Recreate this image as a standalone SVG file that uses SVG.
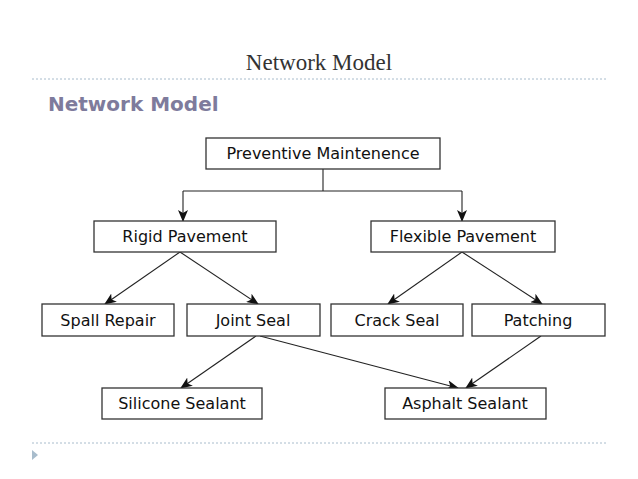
<svg xmlns="http://www.w3.org/2000/svg" width="638" height="479" viewBox="0 0 638 479">
<style>
.b{fill:#fff;stroke:#333;stroke-width:1.3}
.t{font-family:"DejaVu Sans",sans-serif;font-size:16px;fill:#111;text-anchor:middle}
.c{stroke:#222;stroke-width:1.1;fill:none}
.d{stroke:#a8bccc;stroke-width:1;stroke-dasharray:2,2}
</style>
<defs><marker id="a" markerWidth="12" markerHeight="10" refX="11" refY="5" orient="auto" markerUnits="userSpaceOnUse"><path d="M0,0 L12,5 L0,10 L3,5 Z" fill="#111"/></marker></defs>
<rect width="638" height="479" fill="#fff"/>
<text x="319" y="70" font-family="Liberation Serif,serif" font-size="23" fill="#333" text-anchor="middle">Network Model</text>
<line class="d" x1="32" y1="79" x2="606" y2="79"/>
<text x="48" y="111" font-family="DejaVu Sans,sans-serif" font-weight="bold" font-size="20" fill="#7e7b9c">Network Model</text>
<line class="d" x1="32" y1="443" x2="606" y2="443"/>
<path d="M32,450 L38,455 L32,460 Z" fill="#a8bccc"/>
<g id="connectors">
<path class="c" d="M323,169 V191"/>
<path class="c" d="M183,191 H462"/>
<path class="c" d="M183,191 V221" marker-end="url(#a)"/>
<path class="c" d="M462,191 V221" marker-end="url(#a)"/>
<path class="c" d="M180,252 L105,304" marker-end="url(#a)"/>
<path class="c" d="M180,252 L258,304" marker-end="url(#a)"/>
<path class="c" d="M462,252 L388,304" marker-end="url(#a)"/>
<path class="c" d="M462,252 L542,304" marker-end="url(#a)"/>
<path class="c" d="M256,336 L181,388" marker-end="url(#a)"/>
<path class="c" d="M260,336 L458,388" marker-end="url(#a)"/>
<path class="c" d="M541,336 L466,388" marker-end="url(#a)"/>
</g>
<g id="pm"><rect class="b" x="206" y="138" width="234" height="31"/><text class="t" x="323" y="159">Preventive Maintenence</text></g>
<g id="rigid"><rect class="b" x="94" y="221" width="182" height="31"/><text class="t" x="185" y="242">Rigid Pavement</text></g>
<g id="flex"><rect class="b" x="371" y="221" width="184" height="31"/><text class="t" x="463" y="242">Flexible Pavement</text></g>
<g id="spall"><rect class="b" x="42" y="304" width="132" height="32"/><text class="t" x="108" y="326">Spall Repair</text></g>
<g id="joint"><rect class="b" x="187" y="304" width="133" height="32"/><text class="t" x="253" y="326">Joint Seal</text></g>
<g id="crack"><rect class="b" x="331" y="304" width="132" height="32"/><text class="t" x="397" y="326">Crack Seal</text></g>
<g id="patch"><rect class="b" x="472" y="304" width="133" height="32"/><text class="t" x="538" y="326">Patching</text></g>
<g id="silicone"><rect class="b" x="102" y="388" width="160" height="31"/><text class="t" x="182" y="409">Silicone Sealant</text></g>
<g id="asphalt"><rect class="b" x="385" y="388" width="161" height="31"/><text class="t" x="465" y="409">Asphalt Sealant</text></g>
</svg>
